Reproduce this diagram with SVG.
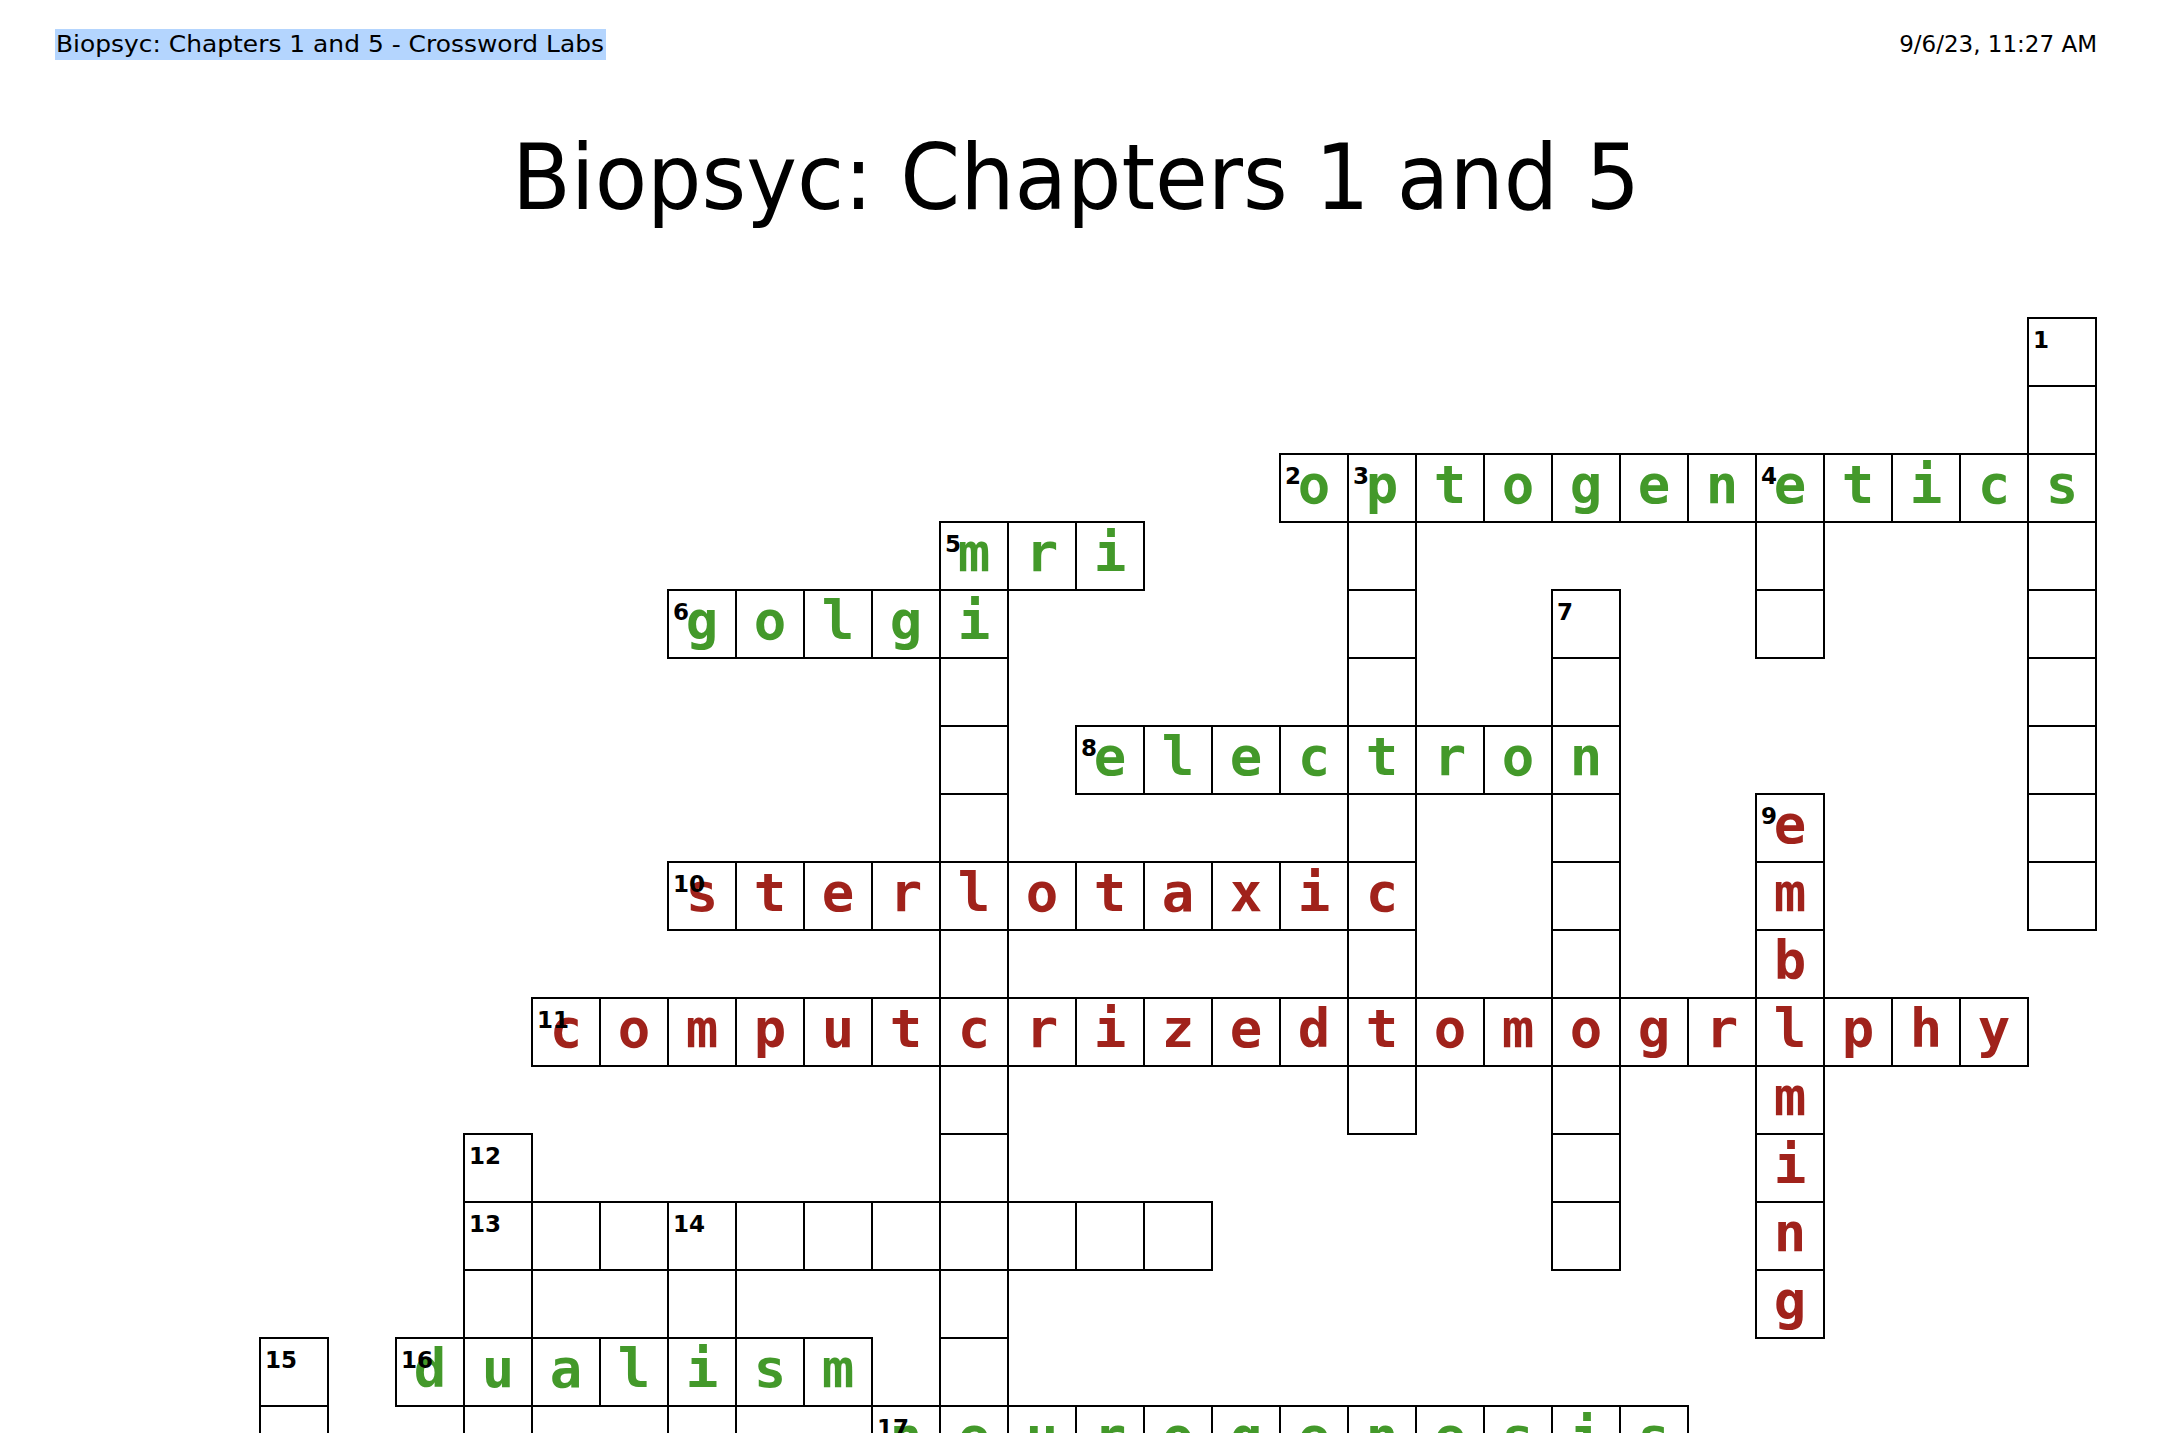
<svg xmlns="http://www.w3.org/2000/svg" width="2160" height="1433" viewBox="0 0 2160 1433">
<style>
.c{fill:#fff;stroke:#000;stroke-width:2}
.g{fill:#43992a;font-family:"DejaVu Sans Mono",monospace;font-weight:bold;font-size:54px;text-anchor:middle}
.r{fill:#a0221b;font-family:"DejaVu Sans Mono",monospace;font-weight:bold;font-size:54px;text-anchor:middle}
.n{fill:#000;font-family:"DejaVu Sans",sans-serif;font-weight:bold;font-size:23px}
.h{font-family:"DejaVu Sans",sans-serif;font-size:23px;fill:#000}
</style>
<rect width="2160" height="1433" fill="#fff"/>
<rect x="55" y="29" width="551" height="31" fill="#b4d5fe"/>
<text class="h" x="56" y="52" textLength="548" lengthAdjust="spacingAndGlyphs">Biopsyc: Chapters 1 and 5 - Crossword Labs</text>
<text class="h" x="2097" y="52" text-anchor="end">9/6/23, 11:27 AM</text>
<text x="1076" y="209" text-anchor="middle" font-family="DejaVu Sans,sans-serif" font-size="90" textLength="1128" lengthAdjust="spacingAndGlyphs">Biopsyc: Chapters 1 and 5</text>

<g id="w1"><rect class="c" x="2028" y="318" width="68" height="68"/><rect class="c" x="2028" y="386" width="68" height="68"/><rect class="c" x="2028" y="454" width="68" height="68"/><rect class="c" x="2028" y="522" width="68" height="68"/><rect class="c" x="2028" y="590" width="68" height="68"/><rect class="c" x="2028" y="658" width="68" height="68"/><rect class="c" x="2028" y="726" width="68" height="68"/><rect class="c" x="2028" y="794" width="68" height="68"/><rect class="c" x="2028" y="862" width="68" height="68"/></g>
<g id="w3"><rect class="c" x="1348" y="454" width="68" height="68"/><rect class="c" x="1348" y="522" width="68" height="68"/><rect class="c" x="1348" y="590" width="68" height="68"/><rect class="c" x="1348" y="658" width="68" height="68"/><rect class="c" x="1348" y="726" width="68" height="68"/><rect class="c" x="1348" y="794" width="68" height="68"/><rect class="c" x="1348" y="862" width="68" height="68"/><rect class="c" x="1348" y="930" width="68" height="68"/><rect class="c" x="1348" y="998" width="68" height="68"/><rect class="c" x="1348" y="1066" width="68" height="68"/></g>
<g id="w4"><rect class="c" x="1756" y="454" width="68" height="68"/><rect class="c" x="1756" y="522" width="68" height="68"/><rect class="c" x="1756" y="590" width="68" height="68"/></g>
<g id="w5d"><rect class="c" x="940" y="522" width="68" height="68"/><rect class="c" x="940" y="590" width="68" height="68"/><rect class="c" x="940" y="658" width="68" height="68"/><rect class="c" x="940" y="726" width="68" height="68"/><rect class="c" x="940" y="794" width="68" height="68"/><rect class="c" x="940" y="862" width="68" height="68"/><rect class="c" x="940" y="930" width="68" height="68"/><rect class="c" x="940" y="998" width="68" height="68"/><rect class="c" x="940" y="1066" width="68" height="68"/><rect class="c" x="940" y="1134" width="68" height="68"/><rect class="c" x="940" y="1202" width="68" height="68"/><rect class="c" x="940" y="1270" width="68" height="68"/><rect class="c" x="940" y="1338" width="68" height="68"/><rect class="c" x="940" y="1406" width="68" height="68"/></g>
<g id="w7"><rect class="c" x="1552" y="590" width="68" height="68"/><rect class="c" x="1552" y="658" width="68" height="68"/><rect class="c" x="1552" y="726" width="68" height="68"/><rect class="c" x="1552" y="794" width="68" height="68"/><rect class="c" x="1552" y="862" width="68" height="68"/><rect class="c" x="1552" y="930" width="68" height="68"/><rect class="c" x="1552" y="998" width="68" height="68"/><rect class="c" x="1552" y="1066" width="68" height="68"/><rect class="c" x="1552" y="1134" width="68" height="68"/><rect class="c" x="1552" y="1202" width="68" height="68"/></g>
<g id="w12"><rect class="c" x="464" y="1134" width="68" height="68"/><rect class="c" x="464" y="1202" width="68" height="68"/><rect class="c" x="464" y="1270" width="68" height="68"/><rect class="c" x="464" y="1338" width="68" height="68"/><rect class="c" x="464" y="1406" width="68" height="68"/></g>
<g id="w14"><rect class="c" x="668" y="1202" width="68" height="68"/><rect class="c" x="668" y="1270" width="68" height="68"/><rect class="c" x="668" y="1338" width="68" height="68"/><rect class="c" x="668" y="1406" width="68" height="68"/></g>
<g id="w15"><rect class="c" x="260" y="1338" width="68" height="68"/><rect class="c" x="260" y="1406" width="68" height="68"/></g>
<g id="w13"><rect class="c" x="464" y="1202" width="68" height="68"/><rect class="c" x="532" y="1202" width="68" height="68"/><rect class="c" x="600" y="1202" width="68" height="68"/><rect class="c" x="668" y="1202" width="68" height="68"/><rect class="c" x="736" y="1202" width="68" height="68"/><rect class="c" x="804" y="1202" width="68" height="68"/><rect class="c" x="872" y="1202" width="68" height="68"/><rect class="c" x="940" y="1202" width="68" height="68"/><rect class="c" x="1008" y="1202" width="68" height="68"/><rect class="c" x="1076" y="1202" width="68" height="68"/><rect class="c" x="1144" y="1202" width="68" height="68"/></g>
<g id="w9"><rect class="c" x="1756" y="794" width="68" height="68"/><rect class="c" x="1756" y="862" width="68" height="68"/><rect class="c" x="1756" y="930" width="68" height="68"/><rect class="c" x="1756" y="998" width="68" height="68"/><rect class="c" x="1756" y="1066" width="68" height="68"/><rect class="c" x="1756" y="1134" width="68" height="68"/><rect class="c" x="1756" y="1202" width="68" height="68"/><rect class="c" x="1756" y="1270" width="68" height="68"/>
<text class="r" x="1790" y="843">e</text><text class="r" x="1790" y="911">m</text><text class="r" x="1790" y="979">b</text><text class="r" x="1790" y="1115">m</text><text class="r" x="1790" y="1183">i</text><text class="r" x="1790" y="1251">n</text><text class="r" x="1790" y="1319">g</text></g>

<g id="w2"><rect class="c" x="1280" y="454" width="68" height="68"/><rect class="c" x="1348" y="454" width="68" height="68"/><rect class="c" x="1416" y="454" width="68" height="68"/><rect class="c" x="1484" y="454" width="68" height="68"/><rect class="c" x="1552" y="454" width="68" height="68"/><rect class="c" x="1620" y="454" width="68" height="68"/><rect class="c" x="1688" y="454" width="68" height="68"/><rect class="c" x="1756" y="454" width="68" height="68"/><rect class="c" x="1824" y="454" width="68" height="68"/><rect class="c" x="1892" y="454" width="68" height="68"/><rect class="c" x="1960" y="454" width="68" height="68"/><rect class="c" x="2028" y="454" width="68" height="68"/>
<text class="g" x="1314" y="503">o</text><text class="g" x="1382" y="503">p</text><text class="g" x="1450" y="503">t</text><text class="g" x="1518" y="503">o</text><text class="g" x="1586" y="503">g</text><text class="g" x="1654" y="503">e</text><text class="g" x="1722" y="503">n</text><text class="g" x="1790" y="503">e</text><text class="g" x="1858" y="503">t</text><text class="g" x="1926" y="503">i</text><text class="g" x="1994" y="503">c</text><text class="g" x="2062" y="503">s</text></g>
<g id="w5"><rect class="c" x="940" y="522" width="68" height="68"/><rect class="c" x="1008" y="522" width="68" height="68"/><rect class="c" x="1076" y="522" width="68" height="68"/>
<text class="g" x="974" y="571">m</text><text class="g" x="1042" y="571">r</text><text class="g" x="1110" y="571">i</text></g>
<g id="w6"><rect class="c" x="668" y="590" width="68" height="68"/><rect class="c" x="736" y="590" width="68" height="68"/><rect class="c" x="804" y="590" width="68" height="68"/><rect class="c" x="872" y="590" width="68" height="68"/><rect class="c" x="940" y="590" width="68" height="68"/>
<text class="g" x="702" y="639">g</text><text class="g" x="770" y="639">o</text><text class="g" x="838" y="639">l</text><text class="g" x="906" y="639">g</text><text class="g" x="974" y="639">i</text></g>
<g id="w8"><rect class="c" x="1076" y="726" width="68" height="68"/><rect class="c" x="1144" y="726" width="68" height="68"/><rect class="c" x="1212" y="726" width="68" height="68"/><rect class="c" x="1280" y="726" width="68" height="68"/><rect class="c" x="1348" y="726" width="68" height="68"/><rect class="c" x="1416" y="726" width="68" height="68"/><rect class="c" x="1484" y="726" width="68" height="68"/><rect class="c" x="1552" y="726" width="68" height="68"/>
<text class="g" x="1110" y="775">e</text><text class="g" x="1178" y="775">l</text><text class="g" x="1246" y="775">e</text><text class="g" x="1314" y="775">c</text><text class="g" x="1382" y="775">t</text><text class="g" x="1450" y="775">r</text><text class="g" x="1518" y="775">o</text><text class="g" x="1586" y="775">n</text></g>
<g id="w10"><rect class="c" x="668" y="862" width="68" height="68"/><rect class="c" x="736" y="862" width="68" height="68"/><rect class="c" x="804" y="862" width="68" height="68"/><rect class="c" x="872" y="862" width="68" height="68"/><rect class="c" x="940" y="862" width="68" height="68"/><rect class="c" x="1008" y="862" width="68" height="68"/><rect class="c" x="1076" y="862" width="68" height="68"/><rect class="c" x="1144" y="862" width="68" height="68"/><rect class="c" x="1212" y="862" width="68" height="68"/><rect class="c" x="1280" y="862" width="68" height="68"/><rect class="c" x="1348" y="862" width="68" height="68"/>
<text class="r" x="702" y="911">s</text><text class="r" x="770" y="911">t</text><text class="r" x="838" y="911">e</text><text class="r" x="906" y="911">r</text><text class="r" x="974" y="911">l</text><text class="r" x="1042" y="911">o</text><text class="r" x="1110" y="911">t</text><text class="r" x="1178" y="911">a</text><text class="r" x="1246" y="911">x</text><text class="r" x="1314" y="911">i</text><text class="r" x="1382" y="911">c</text></g>
<g id="w11"><rect class="c" x="532" y="998" width="68" height="68"/><rect class="c" x="600" y="998" width="68" height="68"/><rect class="c" x="668" y="998" width="68" height="68"/><rect class="c" x="736" y="998" width="68" height="68"/><rect class="c" x="804" y="998" width="68" height="68"/><rect class="c" x="872" y="998" width="68" height="68"/><rect class="c" x="940" y="998" width="68" height="68"/><rect class="c" x="1008" y="998" width="68" height="68"/><rect class="c" x="1076" y="998" width="68" height="68"/><rect class="c" x="1144" y="998" width="68" height="68"/><rect class="c" x="1212" y="998" width="68" height="68"/><rect class="c" x="1280" y="998" width="68" height="68"/><rect class="c" x="1348" y="998" width="68" height="68"/><rect class="c" x="1416" y="998" width="68" height="68"/><rect class="c" x="1484" y="998" width="68" height="68"/><rect class="c" x="1552" y="998" width="68" height="68"/><rect class="c" x="1620" y="998" width="68" height="68"/><rect class="c" x="1688" y="998" width="68" height="68"/><rect class="c" x="1756" y="998" width="68" height="68"/><rect class="c" x="1824" y="998" width="68" height="68"/><rect class="c" x="1892" y="998" width="68" height="68"/><rect class="c" x="1960" y="998" width="68" height="68"/>
<text class="r" x="566" y="1047">c</text><text class="r" x="634" y="1047">o</text><text class="r" x="702" y="1047">m</text><text class="r" x="770" y="1047">p</text><text class="r" x="838" y="1047">u</text><text class="r" x="906" y="1047">t</text><text class="r" x="974" y="1047">c</text><text class="r" x="1042" y="1047">r</text><text class="r" x="1110" y="1047">i</text><text class="r" x="1178" y="1047">z</text><text class="r" x="1246" y="1047">e</text><text class="r" x="1314" y="1047">d</text><text class="r" x="1382" y="1047">t</text><text class="r" x="1450" y="1047">o</text><text class="r" x="1518" y="1047">m</text><text class="r" x="1586" y="1047">o</text><text class="r" x="1654" y="1047">g</text><text class="r" x="1722" y="1047">r</text><text class="r" x="1790" y="1047">l</text><text class="r" x="1858" y="1047">p</text><text class="r" x="1926" y="1047">h</text><text class="r" x="1994" y="1047">y</text></g>
<g id="w16"><rect class="c" x="396" y="1338" width="68" height="68"/><rect class="c" x="464" y="1338" width="68" height="68"/><rect class="c" x="532" y="1338" width="68" height="68"/><rect class="c" x="600" y="1338" width="68" height="68"/><rect class="c" x="668" y="1338" width="68" height="68"/><rect class="c" x="736" y="1338" width="68" height="68"/><rect class="c" x="804" y="1338" width="68" height="68"/>
<text class="g" x="430" y="1387">d</text><text class="g" x="498" y="1387">u</text><text class="g" x="566" y="1387">a</text><text class="g" x="634" y="1387">l</text><text class="g" x="702" y="1387">i</text><text class="g" x="770" y="1387">s</text><text class="g" x="838" y="1387">m</text></g>
<g id="w17"><rect class="c" x="872" y="1406" width="68" height="68"/><rect class="c" x="940" y="1406" width="68" height="68"/><rect class="c" x="1008" y="1406" width="68" height="68"/><rect class="c" x="1076" y="1406" width="68" height="68"/><rect class="c" x="1144" y="1406" width="68" height="68"/><rect class="c" x="1212" y="1406" width="68" height="68"/><rect class="c" x="1280" y="1406" width="68" height="68"/><rect class="c" x="1348" y="1406" width="68" height="68"/><rect class="c" x="1416" y="1406" width="68" height="68"/><rect class="c" x="1484" y="1406" width="68" height="68"/><rect class="c" x="1552" y="1406" width="68" height="68"/><rect class="c" x="1620" y="1406" width="68" height="68"/>
<text class="g" x="906" y="1455">n</text><text class="g" x="974" y="1455">e</text><text class="g" x="1042" y="1455">u</text><text class="g" x="1110" y="1455">r</text><text class="g" x="1178" y="1455">o</text><text class="g" x="1246" y="1455">g</text><text class="g" x="1314" y="1455">e</text><text class="g" x="1382" y="1455">n</text><text class="g" x="1450" y="1455">e</text><text class="g" x="1518" y="1455">s</text><text class="g" x="1586" y="1455">i</text><text class="g" x="1654" y="1455">s</text></g>

<g id="numbers">
<text class="n" x="2033" y="348">1</text><text class="n" x="1285" y="484">2</text><text class="n" x="1353" y="484">3</text><text class="n" x="1761" y="484">4</text><text class="n" x="945" y="552">5</text><text class="n" x="673" y="620">6</text><text class="n" x="1557" y="620">7</text><text class="n" x="1081" y="756">8</text><text class="n" x="1761" y="824">9</text><text class="n" x="673" y="892">10</text><text class="n" x="537" y="1028">11</text><text class="n" x="469" y="1164">12</text><text class="n" x="469" y="1232">13</text><text class="n" x="673" y="1232">14</text><text class="n" x="265" y="1368">15</text><text class="n" x="401" y="1368">16</text><text class="n" x="877" y="1436">17</text>
</g>
</svg>
